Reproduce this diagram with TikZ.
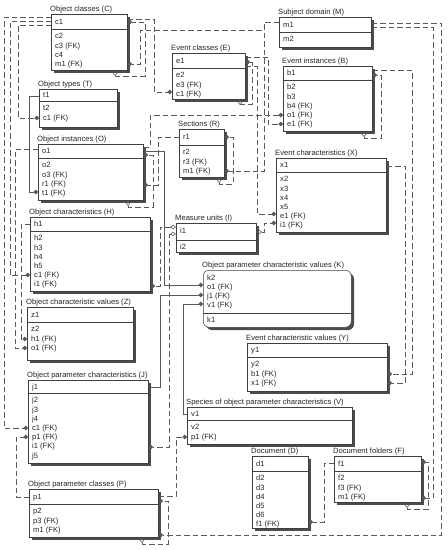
\documentclass[tikz,border=0pt]{standalone}
\usepackage{fontspec}
\setmainfont{Liberation Sans}
\usepackage{tikz}
\usetikzlibrary{calc,shadows,arrows.meta}

\begin{document}
\begin{tikzpicture}[x=1pt, y=-1pt, font=\fontsize{7.6}{9.2}\selectfont]
\tikzstyle{ent}=[draw=black!75, line width=0.5pt, fill=white, anchor=north west, inner sep=0pt,
                 general shadow={fill=black!70, shadow xshift=2.8pt, shadow yshift=-2.8pt}]
\tikzstyle{ttl}=[inner sep=0pt, anchor=base west, text=black!85]
\tikzstyle{fld}=[inner sep=0pt, anchor=north west, align=left, text=black!85]
\tikzstyle{rel}=[draw=black!65, line width=0.6pt, dash pattern=on 5.5pt off 3pt, -{Circle[length=4.4pt]}]
\tikzstyle{idrel}=[draw=black!65, line width=0.6pt, -{Circle[length=4.4pt]}]
\tikzstyle{nul}=[{Diamond[open, length=5.5pt, width=4.5pt]}-{Circle[length=4.4pt]}]
\useasboundingbox (0,0) rectangle (448,550);
% entities: name/x/y/width/height/key band/corner/title/key rows/other rows
\foreach \nm/\xx/\yy/\ww/\hh/\ss/\rc/\ename/\kr/\orows in {
  C/51/14/76/56/15/0/Object classes (C)/c1/c2\\c3 (FK)\\c4\\m1 (FK),
  T/39/89/78/38/12/0/Object types (T)/t1/t2\\c1 (FK),
  E/172/53/73/46/15/0/Event classes (E)/e1/e2\\e3 (FK)\\c1 (FK),
  M/279/17/92/30/15/0/Subject domain (M)/m1/m2,
  B/283/66/89/65/14/0/Event instances (B)/b1/b2\\b3\\b4 (FK)\\o1 (FK)\\e1 (FK),
  R/179/129/45/48/16/0/Sections (R)/r1/r2\\r3 (FK)\\m1 (FK),
  O/38/144/105/56/14/0/Object instances (O)/o1/o2\\o3 (FK)\\r1 (FK)\\t1 (FK),
  H/30/217/120/74/14/0/Object characteristics (H)/h1/h2\\h3\\h4\\h5\\c1 (FK)\\i1 (FK),
  I/176/223/80/29/17/0/Measure units (I)/i1/i2,
  X/276/158/110/74/14/0/Event characteristics (X)/x1/x2\\x3\\x4\\x5\\e1 (FK)\\i1 (FK),
  K/203/270/148/57/43/6/Object parameter characteristic values (K)/k2\\o1 (FK)\\j1 (FK)\\v1 (FK)/k1,
  Z/27/307/106/53/15/0/Object characteristic values (Z)/z1/z2\\h1 (FK)\\o1 (FK),
  Y/247/343/140/48/14/0/Event characteristic values (Y)/y1/y2\\b1 (FK)\\x1 (FK),
  J/28/380/120/83/13/0/Object parameter characteristics (J)/j1/j2\\j3\\j4\\c1 (FK)\\p1 (FK)\\i1 (FK)\\j5,
  V/187/407/165/37/13/0/Species of object parameter characteristics (V)/v1/v2\\p1 (FK),
  P/29/489/129/48/15/0/Object parameter classes (P)/p1/p2\\p3 (FK)\\m1 (FK),
  D/252/456/56/72/15/0/Document (D)/d1/d2\\d3\\d4\\d5\\d6\\f1 (FK),
  F/334/456/87/46/15/0/Document folders (F)/f1/f2\\f3 (FK)\\m1 (FK)}{
  \node[ent, minimum width=\ww, minimum height=\hh, rounded corners=\rc] (\nm) at (\xx,\yy) {};
  \draw[draw=black!75, line width=0.5pt] ($(\nm.north west)+(0,\ss)$) -- ($(\nm.north east)+(0,\ss)$);
  \pgfmathsetmacro\ko{min(\ss/2,7.5)-3.84}
  \node[ttl] (\nm-t) at ($(\nm.north west)+(-1,-3)$) {\ename};
  \node[fld] (\nm-k) at ($(\nm.north west)+(4,\ko)$) {\strut\kr};
  \node[fld] (\nm-r) at ($(\nm.north west)+(4,\ss+3.16)$) {\strut\orows};
}
% object classes
\draw[rel, nul] (C.south -| 115,0) |- (145,76) |- (C.east |- 0,22);
\draw[rel] (M.west |- 0,22) -| (264,30) -| (140,64) -- (C.east |- 0,64);
\draw[rel] (C.east |- 0,19) -| (154,92) -- (E.west |- 0,92);
\draw[rel] (C.west |- 0,25) -| (18,118) -- (T.west |- 0,118);
\draw[rel] (C.west |- 0,21) -| (10,275) -- (H.west |- 0,275);
\draw[rel] (C.west |- 0,17) -| (4,428) -- (J.west |- 0,428);
% objects
\draw[idrel] (T.west |- 0,96) -| (29,192) -- (O.west |- 0,192);
\draw[rel] (O.west |- 0,149) -| (15,348) -- (Z.west |- 0,348);
\draw[rel] (H.west |- 0,224) -| (21,339) -- (Z.west |- 0,339);
\draw[rel] (R.west |- 0,137) -| (158,185) -- (O.east |- 0,185);
\draw[rel, nul] (O.south -| 128,0) |- (153,207) |- (O.east |- 0,155);
\draw[rel] (O.east |- 0,147) -| (150,115) -- (B.west |- 0,115);
\draw[idrel] (O.east |- 0,151) -| (164,285) -- (K.west |- 0,285);
% events
\draw[rel, nul] (E.south -| 240,0) |- (252,104) |- (E.east |- 0,62);
\draw[rel] (E.east |- 0,57) -| (268,124) -- (B.west |- 0,124);
\draw[rel] (E.east |- 0,66) -| (257,214) -- (X.west |- 0,214);
\draw[rel] (M.west |- 0,22) -| (264,171) -- (R.east |- 0,171);
\draw[rel, nul] (R.south -| 219,0) |- (233,184) |- (R.east |- 0,137);
\draw[rel, nul] (B.south -| 364,0) |- (381,138) |- (B.east |- 0,75);
\draw[rel] (B.east |- 0,70) -| (412,374) -- (Y.east |- 0,374);
\draw[rel] (X.east |- 0,166) -| (405,383) -- (Y.east |- 0,383);
% measure units
\draw[rel, nul] (I.east |- 0,232) -| (264,223) -- (X.west |- 0,223);
\draw[rel, nul] (I.west |- 0,227) -| (160,286) -- (H.east |- 0,286);
\draw[rel, nul] (I.west |- 0,234) -| (169,447) -- (J.east |- 0,447);
% parameters
\draw[idrel] (J.east |- 0,387) -| (160,295) -- (K.west |- 0,295);
\draw[idrel] (V.west |- 0,414) -| (183,304) -- (K.west |- 0,304);
\draw[rel] (P.east |- 0,496) -| (176,437) -- (V.west |- 0,437);
\draw[rel] (P.west |- 0,497) -| (16,437) -- (J.west |- 0,437);
\draw[rel, nul] (P.south -| 142,0) |- (168,544) |- (P.east |- 0,501);
\draw[rel] (M.east |- 0,23) -| (441,535) -- (P.east |- 0,535);
% documents
\draw[rel] (M.east |- 0,27) -| (433,498) -- (F.east |- 0,498);
\draw[rel, nul] (F.south -| 407,0) |- (428,509) |- (F.east |- 0,462);
\draw[rel] (F.west |- 0,463) -| (324,522) -- (D.east |- 0,522);
\end{tikzpicture}
\end{document}
